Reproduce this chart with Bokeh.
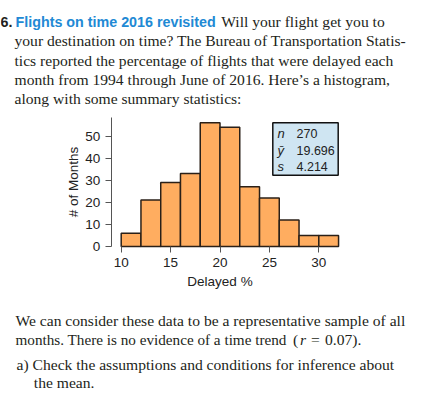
from bokeh.plotting import figure
from bokeh.models import Range1d, FixedTicker, Label, BoxAnnotation
from bokeh.embed import file_html
from bokeh.resources import INLINE

# ---- data ----
bin_left = [10, 12, 14, 16, 18, 20, 22, 24, 26, 28, 30]
bin_right = [12, 14, 16, 18, 20, 22, 24, 26, 28, 30, 32]
counts = [6, 21, 29, 33, 56, 54, 27, 22, 12, 5, 5]
x_ticks = [10, 15, 20, 25, 30]
y_ticks = [0, 10, 20, 30, 40, 50]
stat_names = ["n", "\u0233", "s"]
stat_values = ["270", "19.696", "4.214"]
x_label = "Delayed %"
y_label = "# of Months"

problem_no = "6."
title_text = "Flights on time 2016 revisited"
intro_first = "Will your flight get you to"
intro_lines = [
    "your destination on time? The Bureau of Transportation Statis-",
    "tics reported the percentage of flights that were delayed each",
    "month from 1994 through June of 2016. Here\u2019s a histogram,",
    "along with some summary statistics:",
]
after_line1 = "We can consider these data to be a representative sample of all"
after_line2a = "months. There is no evidence of a time trend"
after_paren = "("
after_r = "r"
after_eq = "="
after_val = "0.07)."
question_a = "a) Check the assumptions and conditions for inference about"
question_a2 = "the mean."

# ---- styles / layout ----
SERIF = "Liberation Serif"
AXF = "Liberation Sans"
SANS = "Liberation Sans"
INK = "#231f20"
BLUE = "#2189d4"
BAR_FILL = "#ffad60"
BAR_LINE = "#2a2018"
BOX_FILL = "#cfe5f2"
BODY = "15.6px"

W, H = 425, 396
PX10, PXU = 120.7, 9.88     # pixel of x=10, pixels per x unit
PY0, PYU = 246.0, 2.21      # pixel of y=0, pixels per y unit

p = figure(width=W, height=H, output_backend="svg", toolbar_location=None,
           title=None,
           x_range=Range1d(10 - PX10 / PXU, 10 + (W - PX10) / PXU),
           y_range=Range1d(-(H - PY0) / PYU, PY0 / PYU))
p.min_border = 0
p.outline_line_color = None
p.xgrid.visible = False
p.ygrid.visible = False
p.background_fill_color = "white"
p.border_fill_color = "white"

p.quad(left=bin_left, right=bin_right, top=counts, bottom=0,
       fill_color=BAR_FILL, line_color=BAR_LINE, line_width=1.5)

for ax in (p.xaxis[0], p.yaxis[0]):
    ax.major_tick_out = 6
    ax.major_tick_in = 0
    ax.minor_tick_line_color = None
    ax.major_tick_line_color = "#555555"
    ax.major_label_text_font = AXF
    ax.major_label_text_font_size = "13.5px"
    ax.major_label_text_color = "#222222"
    ax.major_label_standoff = 5
    ax.axis_label_text_font = AXF
    ax.axis_label_text_font_size = "13.5px"
    ax.axis_label_text_font_style = "normal"
    ax.axis_label_text_color = "#222222"

p.xaxis.ticker = FixedTicker(ticks=x_ticks)
p.yaxis.ticker = FixedTicker(ticks=y_ticks)
p.xaxis.axis_line_color = None
p.yaxis.axis_line_color = "#555555"
p.xaxis.axis_label = x_label
p.yaxis.axis_label = y_label
p.xaxis.axis_label_standoff = 4
p.yaxis.axis_label_standoff = 1
p.xaxis.fixed_location = 0
p.yaxis.fixed_location = 10 - (PX10 - 110.7) / PXU
p.xaxis.bounds = (10, 30)
p.yaxis.bounds = (0, (PY0 - 117) / PYU)

# stats box
p.add_layout(BoxAnnotation(left=10 + (272.3 - PX10) / PXU,
                           right=10 + (337.7 - PX10) / PXU,
                           top=(PY0 - 122.3) / PYU,
                           bottom=(PY0 - 174.7) / PYU,
                           fill_color=BOX_FILL, fill_alpha=1.0,
                           line_color="#111111", line_width=1.5, line_alpha=1.0))


def lab(text, px, py, font=SERIF, size=BODY, style="normal", color=INK,
        baseline="alphabetic"):
    p.add_layout(Label(x=px, y=H - py, x_units="screen", y_units="screen",
                       text=text, text_font=font, text_font_size=size,
                       text_font_style=style, text_color=color,
                       text_baseline=baseline, text_align="left"))


row_y = [133, 149.7, 166.3]
for name, val, ry in zip(stat_names, stat_values, row_y):
    lab(name, 277, ry, font=AXF, size="13px", style="italic",
        color="#222222", baseline="middle")
    lab(val, 296, ry, font=AXF, size="12.5px", color="#222222",
        baseline="middle")

# paragraph above
lab(problem_no, 0, 21, font=SANS, size="14.3px", style="bold", color=INK)
lab(title_text, 15, 21, font=SANS, size="14.3px", style="bold", color=BLUE)
lab(intro_first, 220.7, 21)
for i, line in enumerate(intro_lines):
    lab(line, 14, 40.3 + 19.25 * i)

# paragraph below
lab(after_line1, 15, 320)
lab(after_line2a, 15, 339, size="15.2px")
lab(after_paren, 292.5, 339)
lab(after_r, 299.5, 339, style="italic")
lab(after_eq, 310.5, 339)
lab(after_val, 324.5, 339)
lab(question_a, 16, 363.5)
lab(question_a2, 33.3, 382)

open("out.html", "w").write(file_html(p, INLINE))
